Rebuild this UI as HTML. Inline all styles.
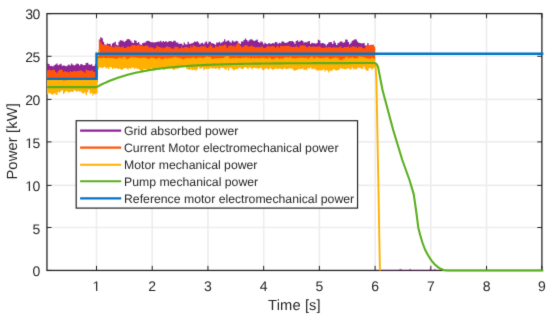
<!DOCTYPE html>
<html><head><meta charset="utf-8"><title>Power plot</title>
<style>html,body{margin:0;padding:0;background:#fff;width:550px;height:317px;overflow:hidden}</style>
</head><body>
<svg width="550" height="317" viewBox="0 0 550 317" style="display:block" text-rendering="geometricPrecision">
<rect x="0" y="0" width="550" height="317" fill="#ffffff"/>
<filter id="soft" x="0" y="0" width="550" height="317" filterUnits="userSpaceOnUse" color-interpolation-filters="sRGB"><feConvolveMatrix order="3" kernelMatrix="0.0100 0.0800 0.0100 0.0800 0.6400 0.0800 0.0100 0.0800 0.0100" edgeMode="duplicate" preserveAlpha="true"/></filter>
<g filter="url(#soft)">
<rect x="0" y="0" width="550" height="317" fill="#ffffff"/>
<path d="M96.50,13.60V270.45M152.22,13.60V270.45M207.94,13.60V270.45M263.66,13.60V270.45M319.38,13.60V270.45M375.10,13.60V270.45M430.82,13.60V270.45M486.54,13.60V270.45M46.95,227.50H541.90M46.95,185.40H541.90M46.95,141.90H541.90M46.95,99.40H541.90M46.95,56.30H541.90" stroke="#ededed" stroke-width="1.6" fill="none"/>
<defs><clipPath id="cp"><rect x="46.95" y="9.6" width="496.45" height="263.85"/></clipPath></defs>
<rect x="46.95" y="13.6" width="494.95" height="256.85" fill="none" stroke="#262626" stroke-width="1.3"/>
<path d="M96.50,270.45v-4.6M96.50,13.60v4.6M152.22,270.45v-4.6M152.22,13.60v4.6M207.94,270.45v-4.6M207.94,13.60v4.6M263.66,270.45v-4.6M263.66,13.60v4.6M319.38,270.45v-4.6M319.38,13.60v4.6M375.10,270.45v-4.6M375.10,13.60v4.6M430.82,270.45v-4.6M430.82,13.60v4.6M486.54,270.45v-4.6M486.54,13.60v4.6M541.90,270.45v-4.6M541.90,13.60v4.6M46.95,270.45h4.6M541.90,270.45h-4.6M46.95,227.50h4.6M541.90,227.50h-4.6M46.95,185.40h4.6M541.90,185.40h-4.6M46.95,141.90h4.6M541.90,141.90h-4.6M46.95,99.40h4.6M541.90,99.40h-4.6M46.95,56.30h4.6M541.90,56.30h-4.6M46.95,13.60h4.6M541.90,13.60h-4.6" stroke="#262626" stroke-width="1" fill="none"/>
<g clip-path="url(#cp)">
<polygon points="46.95,63.54 48.28,63.54 48.28,64.03 49.62,64.03 49.62,66.07 50.95,66.07 50.95,65.70 52.28,65.70 52.28,66.41 53.62,66.41 53.62,65.29 54.95,65.29 54.95,64.42 56.28,64.42 56.28,63.48 57.62,63.48 57.62,65.25 58.95,65.25 58.95,64.49 60.28,64.49 60.28,63.87 61.62,63.87 61.62,65.81 62.95,65.81 62.95,65.51 64.28,65.51 64.28,65.78 65.62,65.78 65.62,66.20 66.95,66.20 66.95,65.49 68.28,65.49 68.28,64.52 69.62,64.52 69.62,65.54 70.95,65.54 70.95,63.43 72.28,63.43 72.28,64.65 73.62,64.65 73.62,65.61 74.95,65.61 74.95,64.64 76.28,64.64 76.28,63.46 77.62,63.46 77.62,64.06 78.95,64.06 78.95,65.54 80.28,65.54 80.28,64.07 81.62,64.07 81.62,64.62 82.95,64.62 82.95,65.24 84.28,65.24 84.28,65.05 85.61,65.05 85.61,62.88 86.95,62.88 86.95,62.72 88.28,62.72 88.28,64.60 89.61,64.60 89.61,64.70 90.95,64.70 90.95,64.31 92.28,64.31 92.28,65.88 93.61,65.88 93.61,65.82 94.95,65.82 94.95,64.10 96.28,64.10 96.28,65.69 97.61,65.69 97.61,66.55 97.61,66.55 97.61,58.10 98.92,58.10 98.92,39.78 100.22,39.78 100.22,37.20 101.52,37.20 101.52,38.28 102.83,38.28 102.83,41.70 104.13,41.70 104.13,44.44 105.43,44.44 105.43,44.64 106.73,44.64 106.73,43.54 108.04,43.54 108.04,44.04 109.34,44.04 109.34,43.86 110.64,43.86 110.64,45.72 111.94,45.72 111.94,43.50 113.25,43.50 113.25,42.76 114.55,42.76 114.55,41.84 115.85,41.84 115.85,44.70 117.16,44.70 117.16,45.55 118.46,45.55 118.46,41.79 119.76,41.79 119.76,40.15 121.06,40.15 121.06,40.39 122.37,40.39 122.37,40.83 123.67,40.83 123.67,42.11 124.97,42.11 124.97,40.96 126.27,40.96 126.27,39.60 127.58,39.60 127.58,39.03 128.88,39.03 128.88,39.45 130.18,39.45 130.18,40.80 131.49,40.80 131.49,42.61 132.79,42.61 132.79,42.88 134.09,42.88 134.09,40.34 135.39,40.34 135.39,40.80 136.70,40.80 136.70,43.03 138.00,43.03 138.00,42.06 139.30,42.06 139.30,44.29 140.61,44.29 140.61,44.97 141.91,44.97 141.91,43.22 143.21,43.22 143.21,42.74 144.51,42.74 144.51,42.40 145.82,42.40 145.82,41.37 147.12,41.37 147.12,40.70 148.42,40.70 148.42,40.90 149.72,40.90 149.72,41.95 151.03,41.95 151.03,42.22 152.33,42.22 152.33,42.29 153.63,42.29 153.63,42.59 154.94,42.59 154.94,42.32 156.24,42.32 156.24,42.05 157.54,42.05 157.54,41.42 158.84,41.42 158.84,41.86 160.15,41.86 160.15,40.83 161.45,40.83 161.45,42.20 162.75,42.20 162.75,40.98 164.05,40.98 164.05,42.03 165.36,42.03 165.36,41.11 166.66,41.11 166.66,42.21 167.96,42.21 167.96,41.48 169.27,41.48 169.27,41.11 170.57,41.11 170.57,41.27 171.87,41.27 171.87,42.05 173.17,42.05 173.17,40.83 174.48,40.83 174.48,40.72 175.78,40.72 175.78,42.62 177.08,42.62 177.08,42.47 178.38,42.47 178.38,44.10 179.69,44.10 179.69,43.51 180.99,43.51 180.99,43.70 182.29,43.70 182.29,45.27 183.60,45.27 183.60,42.55 184.90,42.55 184.90,44.24 186.20,44.24 186.20,44.46 187.50,44.46 187.50,41.86 188.81,41.86 188.81,43.87 190.11,43.87 190.11,43.80 191.41,43.80 191.41,43.24 192.72,43.24 192.72,42.76 194.02,42.76 194.02,41.40 195.32,41.40 195.32,41.97 196.62,41.97 196.62,41.14 197.93,41.14 197.93,42.58 199.23,42.58 199.23,44.18 200.53,44.18 200.53,43.28 201.83,43.28 201.83,42.76 203.14,42.76 203.14,44.14 204.44,44.14 204.44,42.60 205.74,42.60 205.74,41.61 207.05,41.61 207.05,43.78 208.35,43.78 208.35,41.85 209.65,41.85 209.65,41.75 210.95,41.75 210.95,43.16 212.26,43.16 212.26,43.30 213.56,43.30 213.56,44.11 214.86,44.11 214.86,44.86 216.16,44.86 216.16,42.44 217.47,42.44 217.47,42.83 218.77,42.83 218.77,41.85 220.07,41.85 220.07,43.22 221.38,43.22 221.38,42.22 222.68,42.22 222.68,41.45 223.98,41.45 223.98,39.16 225.28,39.16 225.28,41.67 226.59,41.67 226.59,40.81 227.89,40.81 227.89,40.57 229.19,40.57 229.19,41.69 230.49,41.69 230.49,42.66 231.80,42.66 231.80,40.40 233.10,40.40 233.10,41.42 234.40,41.42 234.40,41.72 235.71,41.72 235.71,40.71 237.01,40.71 237.01,41.19 238.31,41.19 238.31,43.16 239.61,43.16 239.61,43.93 240.92,43.93 240.92,41.49 242.22,41.49 242.22,41.40 243.52,41.40 243.52,39.88 244.83,39.88 244.83,38.49 246.13,38.49 246.13,40.02 247.43,40.02 247.43,41.51 248.73,41.51 248.73,40.37 250.04,40.37 250.04,39.16 251.34,39.16 251.34,39.40 252.64,39.40 252.64,40.38 253.94,40.38 253.94,41.11 255.25,41.11 255.25,40.34 256.55,40.34 256.55,39.44 257.85,39.44 257.85,42.03 259.16,42.03 259.16,42.72 260.46,42.72 260.46,41.31 261.76,41.31 261.76,42.19 263.06,42.19 263.06,44.27 264.37,44.27 264.37,42.74 265.67,42.74 265.67,43.64 266.97,43.64 266.97,44.31 268.27,44.31 268.27,43.00 269.58,43.00 269.58,43.81 270.88,43.81 270.88,43.86 272.18,43.86 272.18,43.04 273.49,43.04 273.49,43.40 274.79,43.40 274.79,42.00 276.09,42.00 276.09,42.22 277.39,42.22 277.39,43.87 278.70,43.87 278.70,42.65 280.00,42.65 280.00,43.35 281.30,43.35 281.30,41.45 282.60,41.45 282.60,41.61 283.91,41.61 283.91,42.42 285.21,42.42 285.21,43.04 286.51,43.04 286.51,42.44 287.82,42.44 287.82,41.63 289.12,41.63 289.12,41.02 290.42,41.02 290.42,41.17 291.72,41.17 291.72,40.91 293.03,40.91 293.03,42.07 294.33,42.07 294.33,43.87 295.63,43.87 295.63,40.96 296.94,40.96 296.94,40.19 298.24,40.19 298.24,41.90 299.54,41.90 299.54,40.88 300.84,40.88 300.84,40.35 302.15,40.35 302.15,41.04 303.45,41.04 303.45,42.85 304.75,42.85 304.75,41.96 306.05,41.96 306.05,42.50 307.36,42.50 307.36,41.46 308.66,41.46 308.66,41.01 309.96,41.01 309.96,43.98 311.27,43.98 311.27,42.87 312.57,42.87 312.57,43.36 313.87,43.36 313.87,43.18 315.17,43.18 315.17,43.70 316.48,43.70 316.48,43.04 317.78,43.04 317.78,39.65 319.08,39.65 319.08,40.48 320.38,40.48 320.38,43.57 321.69,43.57 321.69,42.88 322.99,42.88 322.99,43.33 324.29,43.33 324.29,43.93 325.60,43.93 325.60,45.57 326.90,45.57 326.90,44.10 328.20,44.10 328.20,42.60 329.50,42.60 329.50,42.01 330.81,42.01 330.81,42.27 332.11,42.27 332.11,43.90 333.41,43.90 333.41,40.67 334.71,40.67 334.71,42.84 336.02,42.84 336.02,44.91 337.32,44.91 337.32,43.20 338.62,43.20 338.62,42.41 339.93,42.41 339.93,41.54 341.23,41.54 341.23,41.49 342.53,41.49 342.53,42.86 343.83,42.86 343.83,42.20 345.14,42.20 345.14,39.50 346.44,39.50 346.44,39.78 347.74,39.78 347.74,41.90 349.05,41.90 349.05,44.17 350.35,44.17 350.35,42.75 351.65,42.75 351.65,40.84 352.95,40.84 352.95,40.24 354.26,40.24 354.26,39.35 355.56,39.35 355.56,39.58 356.86,39.58 356.86,41.51 358.16,41.51 358.16,42.81 359.47,42.81 359.47,42.97 360.77,42.97 360.77,43.61 362.07,43.61 362.07,43.28 363.38,43.28 363.38,42.89 364.68,42.89 364.68,45.41 365.98,45.41 365.98,45.53 367.28,45.53 367.28,43.04 368.59,43.04 368.59,45.58 369.89,45.58 369.89,46.04 371.19,46.04 371.19,45.35 372.49,45.35 372.49,44.86 373.80,44.86 373.80,47.67 375.10,47.67 375.10,46.55 375.10,56.50 375.10,56.50 373.80,56.50 373.80,56.50 372.49,56.50 372.49,56.50 371.19,56.50 371.19,56.50 369.89,56.50 369.89,56.50 368.59,56.50 368.59,56.50 367.28,56.50 367.28,56.50 365.98,56.50 365.98,56.50 364.68,56.50 364.68,56.50 363.38,56.50 363.38,56.50 362.07,56.50 362.07,56.50 360.77,56.50 360.77,56.50 359.47,56.50 359.47,56.50 358.16,56.50 358.16,56.50 356.86,56.50 356.86,56.50 355.56,56.50 355.56,56.50 354.26,56.50 354.26,56.50 352.95,56.50 352.95,56.50 351.65,56.50 351.65,56.50 350.35,56.50 350.35,56.50 349.05,56.50 349.05,56.50 347.74,56.50 347.74,56.50 346.44,56.50 346.44,56.50 345.14,56.50 345.14,56.50 343.83,56.50 343.83,56.50 342.53,56.50 342.53,56.50 341.23,56.50 341.23,56.50 339.93,56.50 339.93,56.50 338.62,56.50 338.62,56.50 337.32,56.50 337.32,56.50 336.02,56.50 336.02,56.50 334.71,56.50 334.71,56.50 333.41,56.50 333.41,56.50 332.11,56.50 332.11,56.50 330.81,56.50 330.81,56.50 329.50,56.50 329.50,56.50 328.20,56.50 328.20,56.50 326.90,56.50 326.90,56.50 325.60,56.50 325.60,56.50 324.29,56.50 324.29,56.50 322.99,56.50 322.99,56.50 321.69,56.50 321.69,56.50 320.38,56.50 320.38,56.50 319.08,56.50 319.08,56.50 317.78,56.50 317.78,56.50 316.48,56.50 316.48,56.50 315.17,56.50 315.17,56.50 313.87,56.50 313.87,56.50 312.57,56.50 312.57,56.50 311.27,56.50 311.27,56.50 309.96,56.50 309.96,56.50 308.66,56.50 308.66,56.50 307.36,56.50 307.36,56.50 306.05,56.50 306.05,56.50 304.75,56.50 304.75,56.50 303.45,56.50 303.45,56.50 302.15,56.50 302.15,56.50 300.84,56.50 300.84,56.50 299.54,56.50 299.54,56.50 298.24,56.50 298.24,56.50 296.94,56.50 296.94,56.50 295.63,56.50 295.63,56.50 294.33,56.50 294.33,56.50 293.03,56.50 293.03,56.50 291.72,56.50 291.72,56.50 290.42,56.50 290.42,56.50 289.12,56.50 289.12,56.50 287.82,56.50 287.82,56.50 286.51,56.50 286.51,56.50 285.21,56.50 285.21,56.50 283.91,56.50 283.91,56.50 282.60,56.50 282.60,56.50 281.30,56.50 281.30,56.50 280.00,56.50 280.00,56.50 278.70,56.50 278.70,56.50 277.39,56.50 277.39,56.50 276.09,56.50 276.09,56.50 274.79,56.50 274.79,56.50 273.49,56.50 273.49,56.50 272.18,56.50 272.18,56.50 270.88,56.50 270.88,56.50 269.58,56.50 269.58,56.50 268.27,56.50 268.27,56.50 266.97,56.50 266.97,56.50 265.67,56.50 265.67,56.50 264.37,56.50 264.37,56.50 263.06,56.50 263.06,56.50 261.76,56.50 261.76,56.50 260.46,56.50 260.46,56.50 259.16,56.50 259.16,56.50 257.85,56.50 257.85,56.50 256.55,56.50 256.55,56.50 255.25,56.50 255.25,56.50 253.94,56.50 253.94,56.50 252.64,56.50 252.64,56.50 251.34,56.50 251.34,56.50 250.04,56.50 250.04,56.50 248.73,56.50 248.73,56.50 247.43,56.50 247.43,56.50 246.13,56.50 246.13,56.50 244.83,56.50 244.83,56.50 243.52,56.50 243.52,56.50 242.22,56.50 242.22,56.50 240.92,56.50 240.92,56.50 239.61,56.50 239.61,56.50 238.31,56.50 238.31,56.50 237.01,56.50 237.01,56.50 235.71,56.50 235.71,56.50 234.40,56.50 234.40,56.50 233.10,56.50 233.10,56.50 231.80,56.50 231.80,56.50 230.49,56.50 230.49,56.50 229.19,56.50 229.19,56.50 227.89,56.50 227.89,56.50 226.59,56.50 226.59,56.50 225.28,56.50 225.28,56.50 223.98,56.50 223.98,56.50 222.68,56.50 222.68,56.50 221.38,56.50 221.38,56.50 220.07,56.50 220.07,56.50 218.77,56.50 218.77,56.50 217.47,56.50 217.47,56.50 216.16,56.50 216.16,56.50 214.86,56.50 214.86,56.50 213.56,56.50 213.56,56.50 212.26,56.50 212.26,56.50 210.95,56.50 210.95,56.50 209.65,56.50 209.65,56.50 208.35,56.50 208.35,56.50 207.05,56.50 207.05,56.50 205.74,56.50 205.74,56.50 204.44,56.50 204.44,56.50 203.14,56.50 203.14,56.50 201.83,56.50 201.83,56.50 200.53,56.50 200.53,56.50 199.23,56.50 199.23,56.50 197.93,56.50 197.93,56.50 196.62,56.50 196.62,56.50 195.32,56.50 195.32,56.50 194.02,56.50 194.02,56.50 192.72,56.50 192.72,56.50 191.41,56.50 191.41,56.50 190.11,56.50 190.11,56.50 188.81,56.50 188.81,56.50 187.50,56.50 187.50,56.50 186.20,56.50 186.20,56.50 184.90,56.50 184.90,56.50 183.60,56.50 183.60,56.50 182.29,56.50 182.29,56.50 180.99,56.50 180.99,56.50 179.69,56.50 179.69,56.50 178.38,56.50 178.38,56.50 177.08,56.50 177.08,56.50 175.78,56.50 175.78,56.50 174.48,56.50 174.48,56.50 173.17,56.50 173.17,56.50 171.87,56.50 171.87,56.50 170.57,56.50 170.57,56.50 169.27,56.50 169.27,56.50 167.96,56.50 167.96,56.50 166.66,56.50 166.66,56.50 165.36,56.50 165.36,56.50 164.05,56.50 164.05,56.50 162.75,56.50 162.75,56.50 161.45,56.50 161.45,56.50 160.15,56.50 160.15,56.50 158.84,56.50 158.84,56.50 157.54,56.50 157.54,56.50 156.24,56.50 156.24,56.50 154.94,56.50 154.94,56.50 153.63,56.50 153.63,56.50 152.33,56.50 152.33,56.50 151.03,56.50 151.03,56.50 149.72,56.50 149.72,56.50 148.42,56.50 148.42,56.50 147.12,56.50 147.12,56.50 145.82,56.50 145.82,56.50 144.51,56.50 144.51,56.50 143.21,56.50 143.21,56.50 141.91,56.50 141.91,56.50 140.61,56.50 140.61,56.50 139.30,56.50 139.30,56.50 138.00,56.50 138.00,56.50 136.70,56.50 136.70,56.50 135.39,56.50 135.39,56.50 134.09,56.50 134.09,56.50 132.79,56.50 132.79,56.50 131.49,56.50 131.49,56.50 130.18,56.50 130.18,56.50 128.88,56.50 128.88,56.50 127.58,56.50 127.58,56.50 126.27,56.50 126.27,56.50 124.97,56.50 124.97,56.50 123.67,56.50 123.67,56.50 122.37,56.50 122.37,56.50 121.06,56.50 121.06,56.50 119.76,56.50 119.76,56.50 118.46,56.50 118.46,56.50 117.16,56.50 117.16,56.50 115.85,56.50 115.85,56.50 114.55,56.50 114.55,56.50 113.25,56.50 113.25,56.50 111.94,56.50 111.94,56.50 110.64,56.50 110.64,56.50 109.34,56.50 109.34,56.50 108.04,56.50 108.04,56.50 106.73,56.50 106.73,56.50 105.43,56.50 105.43,56.50 104.13,56.50 104.13,56.50 102.83,56.50 102.83,56.50 101.52,56.50 101.52,56.50 100.22,56.50 100.22,56.50 98.92,56.50 98.92,56.50 97.61,56.50 97.61,77.04 97.61,77.04 97.61,77.04 96.28,77.04 96.28,77.04 94.95,77.04 94.95,77.04 93.61,77.04 93.61,77.04 92.28,77.04 92.28,77.04 90.95,77.04 90.95,77.04 89.61,77.04 89.61,77.04 88.28,77.04 88.28,77.04 86.95,77.04 86.95,77.04 85.61,77.04 85.61,77.04 84.28,77.04 84.28,77.04 82.95,77.04 82.95,77.04 81.62,77.04 81.62,77.04 80.28,77.04 80.28,77.04 78.95,77.04 78.95,77.04 77.62,77.04 77.62,77.04 76.28,77.04 76.28,77.04 74.95,77.04 74.95,77.04 73.62,77.04 73.62,77.04 72.28,77.04 72.28,77.04 70.95,77.04 70.95,77.04 69.62,77.04 69.62,77.04 68.28,77.04 68.28,77.04 66.95,77.04 66.95,77.04 65.62,77.04 65.62,77.04 64.28,77.04 64.28,77.04 62.95,77.04 62.95,77.04 61.62,77.04 61.62,77.04 60.28,77.04 60.28,77.04 58.95,77.04 58.95,77.04 57.62,77.04 57.62,77.04 56.28,77.04 56.28,77.04 54.95,77.04 54.95,77.04 53.62,77.04 53.62,77.04 52.28,77.04 52.28,77.04 50.95,77.04 50.95,77.04 49.62,77.04 49.62,77.04 48.28,77.04 48.28,77.04 46.95,77.04" fill="#8E2496"/>
<polygon points="46.95,70.57 48.28,70.57 48.28,69.79 49.62,69.79 49.62,69.96 50.95,69.96 50.95,70.43 52.28,70.43 52.28,69.64 53.62,69.64 53.62,69.73 54.95,69.73 54.95,72.02 56.28,72.02 56.28,72.64 57.62,72.64 57.62,70.92 58.95,70.92 58.95,69.72 60.28,69.72 60.28,69.48 61.62,69.48 61.62,69.97 62.95,69.97 62.95,71.88 64.28,71.88 64.28,71.07 65.62,71.07 65.62,71.71 66.95,71.71 66.95,71.73 68.28,71.73 68.28,72.54 69.62,72.54 69.62,71.02 70.95,71.02 70.95,71.88 72.28,71.88 72.28,71.57 73.62,71.57 73.62,70.65 74.95,70.65 74.95,71.44 76.28,71.44 76.28,71.11 77.62,71.11 77.62,71.09 78.95,71.09 78.95,70.52 80.28,70.52 80.28,70.18 81.62,70.18 81.62,71.37 82.95,71.37 82.95,71.54 84.28,71.54 84.28,72.63 85.61,72.63 85.61,69.54 86.95,69.54 86.95,70.51 88.28,70.51 88.28,70.55 89.61,70.55 89.61,70.96 90.95,70.96 90.95,70.19 92.28,70.19 92.28,70.63 93.61,70.63 93.61,72.10 94.95,72.10 94.95,71.66 96.28,71.66 96.28,70.90 97.61,70.90 97.61,70.90 97.61,70.90 97.61,55.47 98.92,55.47 98.92,39.45 100.22,39.45 100.22,42.20 101.52,42.20 101.52,44.01 102.83,44.01 102.83,44.99 104.13,44.99 104.13,44.63 105.43,44.63 105.43,44.93 106.73,44.93 106.73,45.11 108.04,45.11 108.04,45.74 109.34,45.74 109.34,46.46 110.64,46.46 110.64,46.04 111.94,46.04 111.94,46.84 113.25,46.84 113.25,47.58 114.55,47.58 114.55,45.56 115.85,45.56 115.85,46.73 117.16,46.73 117.16,46.43 118.46,46.43 118.46,46.59 119.76,46.59 119.76,47.13 121.06,47.13 121.06,46.98 122.37,46.98 122.37,46.19 123.67,46.19 123.67,48.10 124.97,48.10 124.97,48.02 126.27,48.02 126.27,46.90 127.58,46.90 127.58,46.20 128.88,46.20 128.88,46.96 130.18,46.96 130.18,46.32 131.49,46.32 131.49,44.92 132.79,44.92 132.79,45.10 134.09,45.10 134.09,44.69 135.39,44.69 135.39,45.95 136.70,45.95 136.70,45.03 138.00,45.03 138.00,44.94 139.30,44.94 139.30,45.62 140.61,45.62 140.61,45.78 141.91,45.78 141.91,45.58 143.21,45.58 143.21,46.31 144.51,46.31 144.51,45.97 145.82,45.97 145.82,45.24 147.12,45.24 147.12,45.75 148.42,45.75 148.42,47.49 149.72,47.49 149.72,46.87 151.03,46.87 151.03,47.50 152.33,47.50 152.33,47.53 153.63,47.53 153.63,48.83 154.94,48.83 154.94,47.91 156.24,47.91 156.24,45.76 157.54,45.76 157.54,46.62 158.84,46.62 158.84,46.99 160.15,46.99 160.15,47.73 161.45,47.73 161.45,47.37 162.75,47.37 162.75,48.40 164.05,48.40 164.05,47.78 165.36,47.78 165.36,46.82 166.66,46.82 166.66,46.29 167.96,46.29 167.96,47.07 169.27,47.07 169.27,46.94 170.57,46.94 170.57,48.35 171.87,48.35 171.87,48.86 173.17,48.86 173.17,48.27 174.48,48.27 174.48,46.43 175.78,46.43 175.78,46.65 177.08,46.65 177.08,46.88 178.38,46.88 178.38,48.61 179.69,48.61 179.69,48.24 180.99,48.24 180.99,46.52 182.29,46.52 182.29,48.16 183.60,48.16 183.60,47.24 184.90,47.24 184.90,47.10 186.20,47.10 186.20,46.75 187.50,46.75 187.50,47.50 188.81,47.50 188.81,48.37 190.11,48.37 190.11,45.67 191.41,45.67 191.41,47.13 192.72,47.13 192.72,45.02 194.02,45.02 194.02,45.88 195.32,45.88 195.32,46.44 196.62,46.44 196.62,46.70 197.93,46.70 197.93,47.08 199.23,47.08 199.23,47.06 200.53,47.06 200.53,45.76 201.83,45.76 201.83,46.40 203.14,46.40 203.14,46.55 204.44,46.55 204.44,45.81 205.74,45.81 205.74,47.58 207.05,47.58 207.05,47.91 208.35,47.91 208.35,46.78 209.65,46.78 209.65,44.59 210.95,44.59 210.95,45.73 212.26,45.73 212.26,47.54 213.56,47.54 213.56,48.02 214.86,48.02 214.86,45.70 216.16,45.70 216.16,46.57 217.47,46.57 217.47,46.85 218.77,46.85 218.77,45.35 220.07,45.35 220.07,46.02 221.38,46.02 221.38,45.43 222.68,45.43 222.68,45.52 223.98,45.52 223.98,44.55 225.28,44.55 225.28,45.33 226.59,45.33 226.59,48.04 227.89,48.04 227.89,46.26 229.19,46.26 229.19,45.81 230.49,45.81 230.49,44.92 231.80,44.92 231.80,46.29 233.10,46.29 233.10,45.38 234.40,45.38 234.40,46.85 235.71,46.85 235.71,44.80 237.01,44.80 237.01,43.20 238.31,43.20 238.31,43.36 239.61,43.36 239.61,45.62 240.92,45.62 240.92,46.74 242.22,46.74 242.22,47.20 243.52,47.20 243.52,46.00 244.83,46.00 244.83,45.23 246.13,45.23 246.13,45.12 247.43,45.12 247.43,46.38 248.73,46.38 248.73,46.72 250.04,46.72 250.04,45.99 251.34,45.99 251.34,45.51 252.64,45.51 252.64,46.65 253.94,46.65 253.94,46.77 255.25,46.77 255.25,47.51 256.55,47.51 256.55,47.07 257.85,47.07 257.85,46.92 259.16,46.92 259.16,47.61 260.46,47.61 260.46,46.75 261.76,46.75 261.76,46.17 263.06,46.17 263.06,48.23 264.37,48.23 264.37,47.94 265.67,47.94 265.67,46.97 266.97,46.97 266.97,46.08 268.27,46.08 268.27,46.43 269.58,46.43 269.58,46.42 270.88,46.42 270.88,46.32 272.18,46.32 272.18,46.08 273.49,46.08 273.49,46.37 274.79,46.37 274.79,47.67 276.09,47.67 276.09,46.58 277.39,46.58 277.39,45.67 278.70,45.67 278.70,47.55 280.00,47.55 280.00,45.87 281.30,45.87 281.30,45.92 282.60,45.92 282.60,46.22 283.91,46.22 283.91,45.74 285.21,45.74 285.21,45.94 286.51,45.94 286.51,45.74 287.82,45.74 287.82,45.40 289.12,45.40 289.12,46.17 290.42,46.17 290.42,46.77 291.72,46.77 291.72,46.92 293.03,46.92 293.03,46.65 294.33,46.65 294.33,46.94 295.63,46.94 295.63,45.69 296.94,45.69 296.94,46.88 298.24,46.88 298.24,47.49 299.54,47.49 299.54,45.29 300.84,45.29 300.84,45.68 302.15,45.68 302.15,45.19 303.45,45.19 303.45,45.52 304.75,45.52 304.75,45.83 306.05,45.83 306.05,47.35 307.36,47.35 307.36,46.75 308.66,46.75 308.66,45.89 309.96,45.89 309.96,46.58 311.27,46.58 311.27,47.10 312.57,47.10 312.57,46.33 313.87,46.33 313.87,46.81 315.17,46.81 315.17,46.87 316.48,46.87 316.48,46.63 317.78,46.63 317.78,46.49 319.08,46.49 319.08,46.02 320.38,46.02 320.38,47.50 321.69,47.50 321.69,47.72 322.99,47.72 322.99,47.64 324.29,47.64 324.29,47.51 325.60,47.51 325.60,46.92 326.90,46.92 326.90,47.53 328.20,47.53 328.20,46.73 329.50,46.73 329.50,47.03 330.81,47.03 330.81,47.70 332.11,47.70 332.11,47.15 333.41,47.15 333.41,47.13 334.71,47.13 334.71,47.55 336.02,47.55 336.02,47.13 337.32,47.13 337.32,47.66 338.62,47.66 338.62,46.89 339.93,46.89 339.93,46.16 341.23,46.16 341.23,47.78 342.53,47.78 342.53,47.64 343.83,47.64 343.83,47.12 345.14,47.12 345.14,46.96 346.44,46.96 346.44,47.02 347.74,47.02 347.74,46.15 349.05,46.15 349.05,47.41 350.35,47.41 350.35,47.18 351.65,47.18 351.65,46.36 352.95,46.36 352.95,46.43 354.26,46.43 354.26,46.85 355.56,46.85 355.56,46.78 356.86,46.78 356.86,48.11 358.16,48.11 358.16,46.55 359.47,46.55 359.47,46.95 360.77,46.95 360.77,46.34 362.07,46.34 362.07,47.89 363.38,47.89 363.38,48.42 364.68,48.42 364.68,47.14 365.98,47.14 365.98,45.91 367.28,45.91 367.28,46.05 368.59,46.05 368.59,45.41 369.89,45.41 369.89,44.86 371.19,44.86 371.19,44.68 372.49,44.68 372.49,45.40 373.80,45.40 373.80,46.46 375.10,46.46 375.10,47.42 375.10,60.78 375.10,60.78 373.80,60.78 373.80,60.78 372.49,60.78 372.49,60.78 371.19,60.78 371.19,60.78 369.89,60.78 369.89,60.78 368.59,60.78 368.59,60.78 367.28,60.78 367.28,60.78 365.98,60.78 365.98,60.78 364.68,60.78 364.68,60.78 363.38,60.78 363.38,60.78 362.07,60.78 362.07,60.78 360.77,60.78 360.77,60.78 359.47,60.78 359.47,60.78 358.16,60.78 358.16,60.78 356.86,60.78 356.86,60.78 355.56,60.78 355.56,60.78 354.26,60.78 354.26,60.78 352.95,60.78 352.95,60.78 351.65,60.78 351.65,60.78 350.35,60.78 350.35,60.78 349.05,60.78 349.05,60.78 347.74,60.78 347.74,60.78 346.44,60.78 346.44,60.78 345.14,60.78 345.14,60.78 343.83,60.78 343.83,60.78 342.53,60.78 342.53,60.78 341.23,60.78 341.23,60.78 339.93,60.78 339.93,60.78 338.62,60.78 338.62,60.78 337.32,60.78 337.32,60.78 336.02,60.78 336.02,60.78 334.71,60.78 334.71,60.78 333.41,60.78 333.41,60.78 332.11,60.78 332.11,60.78 330.81,60.78 330.81,60.78 329.50,60.78 329.50,60.78 328.20,60.78 328.20,60.78 326.90,60.78 326.90,60.78 325.60,60.78 325.60,60.78 324.29,60.78 324.29,60.78 322.99,60.78 322.99,60.78 321.69,60.78 321.69,60.78 320.38,60.78 320.38,60.78 319.08,60.78 319.08,60.78 317.78,60.78 317.78,60.78 316.48,60.78 316.48,60.78 315.17,60.78 315.17,60.78 313.87,60.78 313.87,60.78 312.57,60.78 312.57,60.78 311.27,60.78 311.27,60.78 309.96,60.78 309.96,60.78 308.66,60.78 308.66,60.78 307.36,60.78 307.36,60.78 306.05,60.78 306.05,60.78 304.75,60.78 304.75,60.78 303.45,60.78 303.45,60.78 302.15,60.78 302.15,60.78 300.84,60.78 300.84,60.78 299.54,60.78 299.54,60.78 298.24,60.78 298.24,60.78 296.94,60.78 296.94,60.78 295.63,60.78 295.63,60.78 294.33,60.78 294.33,60.78 293.03,60.78 293.03,60.78 291.72,60.78 291.72,60.78 290.42,60.78 290.42,60.78 289.12,60.78 289.12,60.78 287.82,60.78 287.82,60.78 286.51,60.78 286.51,60.78 285.21,60.78 285.21,60.78 283.91,60.78 283.91,60.78 282.60,60.78 282.60,60.78 281.30,60.78 281.30,60.78 280.00,60.78 280.00,60.78 278.70,60.78 278.70,60.78 277.39,60.78 277.39,60.78 276.09,60.78 276.09,60.78 274.79,60.78 274.79,60.78 273.49,60.78 273.49,60.78 272.18,60.78 272.18,60.78 270.88,60.78 270.88,60.78 269.58,60.78 269.58,60.78 268.27,60.78 268.27,60.78 266.97,60.78 266.97,60.78 265.67,60.78 265.67,60.78 264.37,60.78 264.37,60.78 263.06,60.78 263.06,60.78 261.76,60.78 261.76,60.78 260.46,60.78 260.46,60.78 259.16,60.78 259.16,60.78 257.85,60.78 257.85,60.78 256.55,60.78 256.55,60.78 255.25,60.78 255.25,60.78 253.94,60.78 253.94,60.78 252.64,60.78 252.64,60.78 251.34,60.78 251.34,60.78 250.04,60.78 250.04,60.78 248.73,60.78 248.73,60.78 247.43,60.78 247.43,60.78 246.13,60.78 246.13,60.78 244.83,60.78 244.83,60.78 243.52,60.78 243.52,60.78 242.22,60.78 242.22,60.78 240.92,60.78 240.92,60.78 239.61,60.78 239.61,60.78 238.31,60.78 238.31,60.78 237.01,60.78 237.01,60.78 235.71,60.78 235.71,60.78 234.40,60.78 234.40,60.78 233.10,60.78 233.10,60.78 231.80,60.78 231.80,60.78 230.49,60.78 230.49,60.78 229.19,60.78 229.19,60.78 227.89,60.78 227.89,60.78 226.59,60.78 226.59,60.78 225.28,60.78 225.28,60.78 223.98,60.78 223.98,60.78 222.68,60.78 222.68,60.78 221.38,60.78 221.38,60.78 220.07,60.78 220.07,60.78 218.77,60.78 218.77,60.78 217.47,60.78 217.47,60.78 216.16,60.78 216.16,60.78 214.86,60.78 214.86,60.78 213.56,60.78 213.56,60.78 212.26,60.78 212.26,60.78 210.95,60.78 210.95,60.78 209.65,60.78 209.65,60.78 208.35,60.78 208.35,60.78 207.05,60.78 207.05,60.78 205.74,60.78 205.74,60.78 204.44,60.78 204.44,60.78 203.14,60.78 203.14,60.78 201.83,60.78 201.83,60.78 200.53,60.78 200.53,60.78 199.23,60.78 199.23,60.78 197.93,60.78 197.93,60.78 196.62,60.78 196.62,60.78 195.32,60.78 195.32,60.78 194.02,60.78 194.02,60.78 192.72,60.78 192.72,60.78 191.41,60.78 191.41,60.78 190.11,60.78 190.11,60.78 188.81,60.78 188.81,60.78 187.50,60.78 187.50,60.78 186.20,60.78 186.20,60.78 184.90,60.78 184.90,60.78 183.60,60.78 183.60,60.78 182.29,60.78 182.29,60.78 180.99,60.78 180.99,60.78 179.69,60.78 179.69,60.78 178.38,60.78 178.38,60.78 177.08,60.78 177.08,60.78 175.78,60.78 175.78,60.78 174.48,60.78 174.48,60.78 173.17,60.78 173.17,60.78 171.87,60.78 171.87,60.78 170.57,60.78 170.57,60.78 169.27,60.78 169.27,60.78 167.96,60.78 167.96,60.78 166.66,60.78 166.66,60.78 165.36,60.78 165.36,60.78 164.05,60.78 164.05,60.78 162.75,60.78 162.75,60.78 161.45,60.78 161.45,60.78 160.15,60.78 160.15,60.78 158.84,60.78 158.84,60.78 157.54,60.78 157.54,60.78 156.24,60.78 156.24,60.78 154.94,60.78 154.94,60.78 153.63,60.78 153.63,60.78 152.33,60.78 152.33,60.78 151.03,60.78 151.03,60.78 149.72,60.78 149.72,60.78 148.42,60.78 148.42,60.78 147.12,60.78 147.12,60.78 145.82,60.78 145.82,60.78 144.51,60.78 144.51,60.78 143.21,60.78 143.21,60.78 141.91,60.78 141.91,60.78 140.61,60.78 140.61,60.78 139.30,60.78 139.30,60.78 138.00,60.78 138.00,60.78 136.70,60.78 136.70,60.78 135.39,60.78 135.39,60.78 134.09,60.78 134.09,60.78 132.79,60.78 132.79,60.78 131.49,60.78 131.49,60.78 130.18,60.78 130.18,60.78 128.88,60.78 128.88,60.78 127.58,60.78 127.58,60.78 126.27,60.78 126.27,60.78 124.97,60.78 124.97,60.78 123.67,60.78 123.67,60.78 122.37,60.78 122.37,60.78 121.06,60.78 121.06,60.78 119.76,60.78 119.76,60.78 118.46,60.78 118.46,60.78 117.16,60.78 117.16,60.78 115.85,60.78 115.85,60.78 114.55,60.78 114.55,60.78 113.25,60.78 113.25,60.78 111.94,60.78 111.94,60.78 110.64,60.78 110.64,60.78 109.34,60.78 109.34,60.78 108.04,60.78 108.04,60.78 106.73,60.78 106.73,60.78 105.43,60.78 105.43,60.78 104.13,60.78 104.13,60.78 102.83,60.78 102.83,60.78 101.52,60.78 101.52,60.78 100.22,60.78 100.22,60.78 98.92,60.78 98.92,60.78 97.61,60.78 97.61,82.18 97.61,82.18 97.61,82.18 96.28,82.18 96.28,82.18 94.95,82.18 94.95,82.18 93.61,82.18 93.61,82.18 92.28,82.18 92.28,82.18 90.95,82.18 90.95,82.18 89.61,82.18 89.61,82.18 88.28,82.18 88.28,82.18 86.95,82.18 86.95,82.18 85.61,82.18 85.61,82.18 84.28,82.18 84.28,82.18 82.95,82.18 82.95,82.18 81.62,82.18 81.62,82.18 80.28,82.18 80.28,82.18 78.95,82.18 78.95,82.18 77.62,82.18 77.62,82.18 76.28,82.18 76.28,82.18 74.95,82.18 74.95,82.18 73.62,82.18 73.62,82.18 72.28,82.18 72.28,82.18 70.95,82.18 70.95,82.18 69.62,82.18 69.62,82.18 68.28,82.18 68.28,82.18 66.95,82.18 66.95,82.18 65.62,82.18 65.62,82.18 64.28,82.18 64.28,82.18 62.95,82.18 62.95,82.18 61.62,82.18 61.62,82.18 60.28,82.18 60.28,82.18 58.95,82.18 58.95,82.18 57.62,82.18 57.62,82.18 56.28,82.18 56.28,82.18 54.95,82.18 54.95,82.18 53.62,82.18 53.62,82.18 52.28,82.18 52.28,82.18 50.95,82.18 50.95,82.18 49.62,82.18 49.62,82.18 48.28,82.18 48.28,82.18 46.95,82.18" fill="#FF550A"/>
<polygon points="46.95,79.69 48.28,79.69 48.28,80.07 49.62,80.07 49.62,79.36 50.95,79.36 50.95,79.83 52.28,79.83 52.28,79.33 53.62,79.33 53.62,79.58 54.95,79.58 54.95,79.60 56.28,79.60 56.28,79.91 57.62,79.91 57.62,79.78 58.95,79.78 58.95,79.14 60.28,79.14 60.28,79.45 61.62,79.45 61.62,79.88 62.95,79.88 62.95,80.38 64.28,80.38 64.28,80.24 65.62,80.24 65.62,80.27 66.95,80.27 66.95,79.61 68.28,79.61 68.28,79.36 69.62,79.36 69.62,79.27 70.95,79.27 70.95,79.75 72.28,79.75 72.28,79.63 73.62,79.63 73.62,79.43 74.95,79.43 74.95,79.56 76.28,79.56 76.28,79.38 77.62,79.38 77.62,79.77 78.95,79.77 78.95,79.63 80.28,79.63 80.28,79.85 81.62,79.85 81.62,79.24 82.95,79.24 82.95,79.26 84.28,79.26 84.28,79.30 85.61,79.30 85.61,79.38 86.95,79.38 86.95,79.17 88.28,79.17 88.28,78.99 89.61,78.99 89.61,79.05 90.95,79.05 90.95,79.13 92.28,79.13 92.28,79.23 93.61,79.23 93.61,79.26 94.95,79.26 94.95,79.32 96.28,79.32 96.28,79.11 97.61,79.11 97.61,79.74 97.61,79.74 97.61,57.97 98.92,57.97 98.92,58.09 100.22,58.09 100.22,57.64 101.52,57.64 101.52,57.96 102.83,57.96 102.83,57.61 104.13,57.61 104.13,57.91 105.43,57.91 105.43,58.09 106.73,58.09 106.73,58.00 108.04,58.00 108.04,57.50 109.34,57.50 109.34,58.31 110.64,58.31 110.64,58.09 111.94,58.09 111.94,57.99 113.25,57.99 113.25,58.35 114.55,58.35 114.55,58.65 115.85,58.65 115.85,58.63 117.16,58.63 117.16,58.40 118.46,58.40 118.46,57.54 119.76,57.54 119.76,57.86 121.06,57.86 121.06,58.58 122.37,58.58 122.37,57.03 123.67,57.03 123.67,57.37 124.97,57.37 124.97,57.18 126.27,57.18 126.27,59.19 127.58,59.19 127.58,58.69 128.88,58.69 128.88,57.72 130.18,57.72 130.18,57.46 131.49,57.46 131.49,56.84 132.79,56.84 132.79,57.57 134.09,57.57 134.09,57.23 135.39,57.23 135.39,57.22 136.70,57.22 136.70,57.75 138.00,57.75 138.00,57.79 139.30,57.79 139.30,58.29 140.61,58.29 140.61,57.71 141.91,57.71 141.91,57.81 143.21,57.81 143.21,57.59 144.51,57.59 144.51,57.65 145.82,57.65 145.82,58.02 147.12,58.02 147.12,59.10 148.42,59.10 148.42,58.66 149.72,58.66 149.72,58.11 151.03,58.11 151.03,57.40 152.33,57.40 152.33,58.04 153.63,58.04 153.63,58.10 154.94,58.10 154.94,59.08 156.24,59.08 156.24,58.69 157.54,58.69 157.54,58.01 158.84,58.01 158.84,57.52 160.15,57.52 160.15,58.85 161.45,58.85 161.45,59.29 162.75,59.29 162.75,58.81 164.05,58.81 164.05,58.36 165.36,58.36 165.36,57.65 166.66,57.65 166.66,58.77 167.96,58.77 167.96,58.03 169.27,58.03 169.27,58.45 170.57,58.45 170.57,57.81 171.87,57.81 171.87,57.96 173.17,57.96 173.17,57.17 174.48,57.17 174.48,56.97 175.78,56.97 175.78,57.13 177.08,57.13 177.08,57.78 178.38,57.78 178.38,57.77 179.69,57.77 179.69,58.30 180.99,58.30 180.99,58.61 182.29,58.61 182.29,59.44 183.60,59.44 183.60,58.72 184.90,58.72 184.90,58.16 186.20,58.16 186.20,57.96 187.50,57.96 187.50,58.32 188.81,58.32 188.81,58.04 190.11,58.04 190.11,58.18 191.41,58.18 191.41,57.66 192.72,57.66 192.72,57.34 194.02,57.34 194.02,57.77 195.32,57.77 195.32,58.76 196.62,58.76 196.62,57.72 197.93,57.72 197.93,57.56 199.23,57.56 199.23,57.35 200.53,57.35 200.53,57.46 201.83,57.46 201.83,58.28 203.14,58.28 203.14,57.84 204.44,57.84 204.44,56.90 205.74,56.90 205.74,56.67 207.05,56.67 207.05,56.38 208.35,56.38 208.35,56.96 209.65,56.96 209.65,56.99 210.95,56.99 210.95,58.59 212.26,58.59 212.26,58.96 213.56,58.96 213.56,58.39 214.86,58.39 214.86,58.14 216.16,58.14 216.16,58.20 217.47,58.20 217.47,58.29 218.77,58.29 218.77,57.90 220.07,57.90 220.07,58.14 221.38,58.14 221.38,58.11 222.68,58.11 222.68,57.91 223.98,57.91 223.98,57.34 225.28,57.34 225.28,56.29 226.59,56.29 226.59,56.61 227.89,56.61 227.89,56.59 229.19,56.59 229.19,58.60 230.49,58.60 230.49,58.50 231.80,58.50 231.80,58.11 233.10,58.11 233.10,58.03 234.40,58.03 234.40,58.14 235.71,58.14 235.71,57.55 237.01,57.55 237.01,58.34 238.31,58.34 238.31,57.90 239.61,57.90 239.61,58.59 240.92,58.59 240.92,57.86 242.22,57.86 242.22,57.83 243.52,57.83 243.52,57.86 244.83,57.86 244.83,57.38 246.13,57.38 246.13,57.20 247.43,57.20 247.43,58.25 248.73,58.25 248.73,57.49 250.04,57.49 250.04,58.70 251.34,58.70 251.34,57.92 252.64,57.92 252.64,57.78 253.94,57.78 253.94,58.39 255.25,58.39 255.25,57.69 256.55,57.69 256.55,58.30 257.85,58.30 257.85,58.04 259.16,58.04 259.16,58.85 260.46,58.85 260.46,57.40 261.76,57.40 261.76,57.99 263.06,57.99 263.06,57.46 264.37,57.46 264.37,58.58 265.67,58.58 265.67,58.07 266.97,58.07 266.97,58.95 268.27,58.95 268.27,57.17 269.58,57.17 269.58,58.06 270.88,58.06 270.88,59.22 272.18,59.22 272.18,59.23 273.49,59.23 273.49,58.76 274.79,58.76 274.79,57.88 276.09,57.88 276.09,57.50 277.39,57.50 277.39,58.06 278.70,58.06 278.70,58.95 280.00,58.95 280.00,58.18 281.30,58.18 281.30,58.89 282.60,58.89 282.60,57.97 283.91,57.97 283.91,57.40 285.21,57.40 285.21,57.18 286.51,57.18 286.51,57.35 287.82,57.35 287.82,57.90 289.12,57.90 289.12,56.72 290.42,56.72 290.42,57.61 291.72,57.61 291.72,58.25 293.03,58.25 293.03,58.14 294.33,58.14 294.33,58.44 295.63,58.44 295.63,58.09 296.94,58.09 296.94,58.36 298.24,58.36 298.24,57.62 299.54,57.62 299.54,57.68 300.84,57.68 300.84,57.47 302.15,57.47 302.15,57.86 303.45,57.86 303.45,57.64 304.75,57.64 304.75,58.00 306.05,58.00 306.05,57.58 307.36,57.58 307.36,58.93 308.66,58.93 308.66,57.99 309.96,57.99 309.96,57.31 311.27,57.31 311.27,56.43 312.57,56.43 312.57,57.74 313.87,57.74 313.87,58.38 315.17,58.38 315.17,57.27 316.48,57.27 316.48,57.30 317.78,57.30 317.78,57.78 319.08,57.78 319.08,58.29 320.38,58.29 320.38,58.20 321.69,58.20 321.69,57.65 322.99,57.65 322.99,58.33 324.29,58.33 324.29,57.60 325.60,57.60 325.60,57.55 326.90,57.55 326.90,57.21 328.20,57.21 328.20,58.14 329.50,58.14 329.50,58.93 330.81,58.93 330.81,58.69 332.11,58.69 332.11,57.94 333.41,57.94 333.41,57.92 334.71,57.92 334.71,57.17 336.02,57.17 336.02,57.82 337.32,57.82 337.32,57.73 338.62,57.73 338.62,59.43 339.93,59.43 339.93,59.75 341.23,59.75 341.23,60.14 342.53,60.14 342.53,58.72 343.83,58.72 343.83,58.42 345.14,58.42 345.14,57.33 346.44,57.33 346.44,56.87 347.74,56.87 347.74,58.60 349.05,58.60 349.05,57.78 350.35,57.78 350.35,58.08 351.65,58.08 351.65,57.04 352.95,57.04 352.95,57.91 354.26,57.91 354.26,58.48 355.56,58.48 355.56,58.24 356.86,58.24 356.86,58.29 358.16,58.29 358.16,56.51 359.47,56.51 359.47,56.70 360.77,56.70 360.77,56.66 362.07,56.66 362.07,57.01 363.38,57.01 363.38,57.13 364.68,57.13 364.68,57.86 365.98,57.86 365.98,58.35 367.28,58.35 367.28,58.54 368.59,58.54 368.59,58.42 369.89,58.42 369.89,58.80 371.19,58.80 371.19,57.54 372.49,57.54 372.49,58.07 373.80,58.07 373.80,58.69 375.10,58.69 375.10,58.57 375.10,69.18 375.10,67.53 373.80,67.53 373.80,68.50 372.49,68.50 372.49,69.70 371.19,69.70 371.19,67.93 369.89,67.93 369.89,68.27 368.59,68.27 368.59,70.78 367.28,70.78 367.28,70.54 365.98,70.54 365.98,69.13 364.68,69.13 364.68,66.44 363.38,66.44 363.38,68.87 362.07,68.87 362.07,68.85 360.77,68.85 360.77,68.03 359.47,68.03 359.47,67.43 358.16,67.43 358.16,68.26 356.86,68.26 356.86,69.41 355.56,69.41 355.56,68.82 354.26,68.82 354.26,69.49 352.95,69.49 352.95,67.45 351.65,67.45 351.65,69.58 350.35,69.58 350.35,69.25 349.05,69.25 349.05,68.34 347.74,68.34 347.74,68.75 346.44,68.75 346.44,69.22 345.14,69.22 345.14,69.25 343.83,69.25 343.83,68.84 342.53,68.84 342.53,68.67 341.23,68.67 341.23,68.00 339.93,68.00 339.93,69.45 338.62,69.45 338.62,70.31 337.32,70.31 337.32,70.53 336.02,70.53 336.02,70.13 334.71,70.13 334.71,69.01 333.41,69.01 333.41,69.92 332.11,69.92 332.11,71.36 330.81,71.36 330.81,70.49 329.50,70.49 329.50,72.61 328.20,72.61 328.20,70.57 326.90,70.57 326.90,70.07 325.60,70.07 325.60,71.43 324.29,71.43 324.29,69.36 322.99,69.36 322.99,70.31 321.69,70.31 321.69,70.59 320.38,70.59 320.38,70.16 319.08,70.16 319.08,70.44 317.78,70.44 317.78,70.41 316.48,70.41 316.48,69.72 315.17,69.72 315.17,68.51 313.87,68.51 313.87,69.35 312.57,69.35 312.57,69.06 311.27,69.06 311.27,67.51 309.96,67.51 309.96,68.62 308.66,68.62 308.66,68.24 307.36,68.24 307.36,70.13 306.05,70.13 306.05,69.51 304.75,69.51 304.75,70.02 303.45,70.02 303.45,68.52 302.15,68.52 302.15,68.99 300.84,68.99 300.84,69.23 299.54,69.23 299.54,68.65 298.24,68.65 298.24,69.75 296.94,69.75 296.94,69.97 295.63,69.97 295.63,70.66 294.33,70.66 294.33,70.20 293.03,70.20 293.03,68.59 291.72,68.59 291.72,68.65 290.42,68.65 290.42,67.92 289.12,67.92 289.12,68.72 287.82,68.72 287.82,68.90 286.51,68.90 286.51,69.29 285.21,69.29 285.21,68.11 283.91,68.11 283.91,69.28 282.60,69.28 282.60,69.18 281.30,69.18 281.30,68.70 280.00,68.70 280.00,68.53 278.70,68.53 278.70,68.94 277.39,68.94 277.39,68.79 276.09,68.79 276.09,68.53 274.79,68.53 274.79,68.88 273.49,68.88 273.49,70.02 272.18,70.02 272.18,68.91 270.88,68.91 270.88,67.78 269.58,67.78 269.58,69.42 268.27,69.42 268.27,69.05 266.97,69.05 266.97,68.23 265.67,68.23 265.67,68.77 264.37,68.77 264.37,70.30 263.06,70.30 263.06,69.83 261.76,69.83 261.76,67.75 260.46,67.75 260.46,67.91 259.16,67.91 259.16,68.84 257.85,68.84 257.85,68.16 256.55,68.16 256.55,68.37 255.25,68.37 255.25,67.66 253.94,67.66 253.94,68.07 252.64,68.07 252.64,69.50 251.34,69.50 251.34,67.68 250.04,67.68 250.04,67.61 248.73,67.61 248.73,68.94 247.43,68.94 247.43,68.01 246.13,68.01 246.13,66.98 244.83,66.98 244.83,67.82 243.52,67.82 243.52,69.07 242.22,69.07 242.22,69.06 240.92,69.06 240.92,67.77 239.61,67.77 239.61,67.78 238.31,67.78 238.31,69.29 237.01,69.29 237.01,69.08 235.71,69.08 235.71,69.46 234.40,69.46 234.40,70.61 233.10,70.61 233.10,68.94 231.80,68.94 231.80,67.74 230.49,67.74 230.49,67.71 229.19,67.71 229.19,70.46 227.89,70.46 227.89,68.24 226.59,68.24 226.59,69.83 225.28,69.83 225.28,68.63 223.98,68.63 223.98,68.09 222.68,68.09 222.68,67.70 221.38,67.70 221.38,67.91 220.07,67.91 220.07,69.80 218.77,69.80 218.77,68.44 217.47,68.44 217.47,68.33 216.16,68.33 216.16,68.96 214.86,68.96 214.86,68.01 213.56,68.01 213.56,68.74 212.26,68.74 212.26,68.16 210.95,68.16 210.95,67.66 209.65,67.66 209.65,68.94 208.35,68.94 208.35,68.74 207.05,68.74 207.05,69.26 205.74,69.26 205.74,68.39 204.44,68.39 204.44,70.25 203.14,70.25 203.14,67.39 201.83,67.39 201.83,68.52 200.53,68.52 200.53,68.84 199.23,68.84 199.23,67.02 197.93,67.02 197.93,69.33 196.62,69.33 196.62,70.72 195.32,70.72 195.32,69.83 194.02,69.83 194.02,69.76 192.72,69.76 192.72,70.34 191.41,70.34 191.41,68.74 190.11,68.74 190.11,70.08 188.81,70.08 188.81,69.28 187.50,69.28 187.50,68.97 186.20,68.97 186.20,66.95 184.90,66.95 184.90,66.86 183.60,66.86 183.60,67.02 182.29,67.02 182.29,67.08 180.99,67.08 180.99,67.87 179.69,67.87 179.69,67.36 178.38,67.36 178.38,68.99 177.08,68.99 177.08,68.47 175.78,68.47 175.78,69.21 174.48,69.21 174.48,69.96 173.17,69.96 173.17,68.99 171.87,68.99 171.87,67.29 170.57,67.29 170.57,68.11 169.27,68.11 169.27,67.02 167.96,67.02 167.96,69.10 166.66,69.10 166.66,68.49 165.36,68.49 165.36,69.72 164.05,69.72 164.05,69.71 162.75,69.71 162.75,68.22 161.45,68.22 161.45,68.45 160.15,68.45 160.15,70.02 158.84,70.02 158.84,68.68 157.54,68.68 157.54,68.97 156.24,68.97 156.24,69.46 154.94,69.46 154.94,69.67 153.63,69.67 153.63,69.49 152.33,69.49 152.33,68.12 151.03,68.12 151.03,70.25 149.72,70.25 149.72,69.98 148.42,69.98 148.42,70.17 147.12,70.17 147.12,69.09 145.82,69.09 145.82,69.02 144.51,69.02 144.51,69.15 143.21,69.15 143.21,70.82 141.91,70.82 141.91,71.03 140.61,71.03 140.61,69.91 139.30,69.91 139.30,68.64 138.00,68.64 138.00,69.22 136.70,69.22 136.70,67.70 135.39,67.70 135.39,69.18 134.09,69.18 134.09,67.66 132.79,67.66 132.79,67.55 131.49,67.55 131.49,68.84 130.18,68.84 130.18,68.01 128.88,68.01 128.88,69.54 127.58,69.54 127.58,68.74 126.27,68.74 126.27,67.94 124.97,67.94 124.97,68.26 123.67,68.26 123.67,68.95 122.37,68.95 122.37,70.06 121.06,70.06 121.06,68.89 119.76,68.89 119.76,68.56 118.46,68.56 118.46,68.95 117.16,68.95 117.16,67.88 115.85,67.88 115.85,68.47 114.55,68.47 114.55,67.78 113.25,67.78 113.25,68.93 111.94,68.93 111.94,67.16 110.64,67.16 110.64,66.94 109.34,66.94 109.34,69.01 108.04,69.01 108.04,67.64 106.73,67.64 106.73,68.48 105.43,68.48 105.43,66.81 104.13,66.81 104.13,67.42 102.83,67.42 102.83,68.05 101.52,68.05 101.52,67.62 100.22,67.62 100.22,67.30 98.92,67.30 98.92,69.47 97.61,69.47 97.61,93.97 97.61,93.97 97.61,93.14 96.28,93.14 96.28,94.17 94.95,94.17 94.95,93.65 93.61,93.65 93.61,95.47 92.28,95.47 92.28,92.89 90.95,92.89 90.95,93.63 89.61,93.63 89.61,89.81 88.28,89.81 88.28,92.23 86.95,92.23 86.95,95.37 85.61,95.37 85.61,92.61 84.28,92.61 84.28,93.47 82.95,93.47 82.95,92.89 81.62,92.89 81.62,91.58 80.28,91.58 80.28,91.62 78.95,91.62 78.95,90.98 77.62,90.98 77.62,91.74 76.28,91.74 76.28,90.66 74.95,90.66 74.95,90.34 73.62,90.34 73.62,92.11 72.28,92.11 72.28,91.69 70.95,91.69 70.95,91.76 69.62,91.76 69.62,92.69 68.28,92.69 68.28,91.67 66.95,91.67 66.95,90.95 65.62,90.95 65.62,92.42 64.28,92.42 64.28,93.96 62.95,93.96 62.95,90.18 61.62,90.18 61.62,91.16 60.28,91.16 60.28,92.59 58.95,92.59 58.95,92.11 57.62,92.11 57.62,94.92 56.28,94.92 56.28,93.77 54.95,93.77 54.95,93.17 53.62,93.17 53.62,94.87 52.28,94.87 52.28,94.14 50.95,94.14 50.95,93.48 49.62,93.48 49.62,92.77 48.28,92.77 48.28,94.17 46.95,94.17" fill="#FFB000"/>
<rect x="98.2" y="49.8" width="1.4" height="2.2" fill="#FFB000"/>
<path d="M375.40,63.35L376.4,80 L378.3,180 L379.9,270.50" stroke="#FFB000" stroke-width="1.9" fill="none"/>
<polyline points="46.95,87.14 96.50,87.14 96.50,87.14 98.50,86.06 100.51,85.02 102.51,84.03 104.52,83.08 106.52,82.17 108.53,81.31 110.53,80.48 112.53,79.70 114.54,78.94 116.54,78.23 118.55,77.54 120.55,76.89 122.56,76.26 124.56,75.66 126.56,75.09 128.57,74.55 130.57,74.03 132.58,73.53 134.58,73.06 136.59,72.60 138.59,72.17 140.59,71.76 142.60,71.36 144.60,70.99 146.61,70.63 148.61,70.28 150.62,69.96 152.62,69.64 154.63,69.34 156.63,69.06 158.63,68.78 160.64,68.52 162.64,68.28 164.65,68.04 166.65,67.81 168.66,67.59 170.66,67.39 172.66,67.19 174.67,67.00 176.67,66.82 178.68,66.65 180.68,66.49 182.69,66.33 184.69,66.18 186.69,66.04 188.70,65.90 190.70,65.77 192.71,65.64 194.71,65.53 196.72,65.41 198.72,65.30 200.72,65.20 202.73,65.10 204.73,65.01 206.74,64.92 208.74,64.83 210.75,64.75 212.75,64.67 214.75,64.59 216.76,64.52 218.76,64.45 220.77,64.39 222.77,64.33 224.78,64.27 226.78,64.21 228.78,64.16 230.79,64.10 232.79,64.05 234.80,64.01 236.80,63.96 238.81,63.92 240.81,63.88 242.82,63.84 244.82,63.80 246.82,63.77 248.83,63.73 250.83,63.70 252.84,63.67 254.84,63.64 256.85,63.61 258.85,63.58 260.85,63.56 262.86,63.53 264.86,63.51 266.87,63.48 268.87,63.46 270.88,63.44 272.88,63.42 274.88,63.40 276.89,63.39 278.89,63.37 280.90,63.35 282.90,63.34 284.91,63.32 286.91,63.31 288.91,63.29 290.92,63.28 292.92,63.27 294.93,63.26 296.93,63.25 298.94,63.23 300.94,63.22 302.94,63.21 304.95,63.21 306.95,63.20 308.96,63.19 310.96,63.18 312.97,63.17 314.97,63.16 316.97,63.16 318.98,63.15 320.98,63.14 322.99,63.14 324.99,63.13 327.00,63.13 329.00,63.12 331.01,63.12 333.01,63.11 335.01,63.11 337.02,63.10 339.02,63.10 341.03,63.09 343.03,63.09 345.04,63.08 347.04,63.08 349.04,63.08 351.05,63.07 353.05,63.07 355.06,63.07 357.06,63.07 359.07,63.06 361.07,63.06 363.07,63.06 365.08,63.06 367.08,63.05 369.09,63.05 371.09,63.05 373.10,63.05 375.10,63.05 376.00,63.60 377.20,65.00 378.20,67.60 382.50,90.00 393.20,130.00 402.30,160.00 409.50,180.00 413.70,194.10 415.60,207.00 416.70,215.00 418.30,227.70 420.20,235.00 422.40,242.50 425.00,249.50 428.20,255.50 431.50,260.60 434.60,264.20 437.60,266.90 440.60,268.80 443.50,270.00 447.00,270.50 543.90,270.50" stroke="#5AAF1E" stroke-width="2.1" fill="none" stroke-linejoin="round"/>
<polyline points="44.95,78.84 96.50,78.84 96.50,53.76 543.90,53.76" stroke="#0073C8" stroke-width="2.4" fill="none"/>
<path d="M381,270.2H440" stroke="#8E2496" stroke-width="1.0" stroke-opacity="0.35" fill="none"/>
<rect x="399.5" y="268.9" width="2.0" height="1.1" fill="#8E2496" fill-opacity="0.7"/>
<rect x="409.5" y="268.9" width="1.4" height="1.1" fill="#8E2496" fill-opacity="0.7"/>
<rect x="429.5" y="268.9" width="1.6" height="1.1" fill="#8E2496" fill-opacity="0.7"/>
<rect x="434" y="268.9" width="1.4" height="1.1" fill="#8E2496" fill-opacity="0.7"/>
</g>
<g font-family="'Liberation Sans', Arial, Helvetica, sans-serif" font-size="14" fill="#262626">
<text x="92.61" y="291.0">1</text>
<text x="148.33" y="291.0">2</text>
<text x="204.05" y="291.0">3</text>
<text x="259.77" y="291.0">4</text>
<text x="315.49" y="291.0">5</text>
<text x="371.21" y="291.0">6</text>
<text x="426.93" y="291.0">7</text>
<text x="482.65" y="291.0">8</text>
<text x="538.01" y="291.0">9</text>
<text x="32.45" y="276.00">0</text>
<text x="32.45" y="234.00">5</text>
<text y="191.00"><tspan x="25.2">1</tspan><tspan x="32.45">0</tspan></text>
<text y="148.00"><tspan x="25.2">1</tspan><tspan x="32.45">5</tspan></text>
<text y="105.00"><tspan x="25.2">2</tspan><tspan x="32.45">0</tspan></text>
<text y="62.00"><tspan x="25.2">2</tspan><tspan x="32.45">5</tspan></text>
<text y="19.00"><tspan x="25.2">3</tspan><tspan x="32.45">0</tspan></text>
</g>
<rect x="93.02" y="289.80" width="3.11" height="1.6" fill="#fff"/><rect x="97.36" y="289.80" width="2.97" height="1.6" fill="#fff"/>
<rect x="25.61" y="189.80" width="3.11" height="1.6" fill="#fff"/><rect x="29.96" y="189.80" width="2.97" height="1.6" fill="#fff"/>
<rect x="25.61" y="146.80" width="3.11" height="1.6" fill="#fff"/><rect x="29.96" y="146.80" width="2.97" height="1.6" fill="#fff"/>
<text x="294.43" y="309.8" text-anchor="middle" font-family="'Liberation Sans', Arial, Helvetica, sans-serif" font-size="14.7" letter-spacing="0.12" fill="#262626">Time [s]</text>
<text transform="translate(16.8,141.30) rotate(-90)" x="0" y="0" text-anchor="middle" font-family="'Liberation Sans', Arial, Helvetica, sans-serif" font-size="14.7" letter-spacing="0.15" fill="#262626">Power [kW]</text>
<rect x="76.2" y="120.7" width="281.35" height="87.40" fill="#ffffff" stroke="#262626" stroke-width="1.2"/>
<path d="M80.1,130.6H121.2" stroke="#8E2496" stroke-width="2.1" fill="none"/>
<text x="124.0" y="135.20" font-family="'Liberation Sans', Arial, Helvetica, sans-serif" font-size="12.25" fill="#262626">Grid absorbed power</text>
<path d="M80.1,147.65H121.2" stroke="#FF550A" stroke-width="2.1" fill="none"/>
<text x="124.0" y="152.25" font-family="'Liberation Sans', Arial, Helvetica, sans-serif" font-size="12.25" fill="#262626">Current Motor electromechanical power</text>
<path d="M80.1,164.8H121.2" stroke="#FFB000" stroke-width="2.1" fill="none"/>
<text x="124.0" y="169.40" font-family="'Liberation Sans', Arial, Helvetica, sans-serif" font-size="12.25" fill="#262626">Motor mechanical power</text>
<path d="M80.1,181.3H121.2" stroke="#5AAF1E" stroke-width="2.1" fill="none"/>
<text x="124.0" y="185.90" font-family="'Liberation Sans', Arial, Helvetica, sans-serif" font-size="12.25" fill="#262626">Pump mechanical power</text>
<path d="M80.1,198.4H121.2" stroke="#0073C8" stroke-width="2.1" fill="none"/>
<text x="124.0" y="203.00" font-family="'Liberation Sans', Arial, Helvetica, sans-serif" font-size="12.25" fill="#262626">Reference motor electromechanical power</text>
</g>
</svg>
</body></html>
